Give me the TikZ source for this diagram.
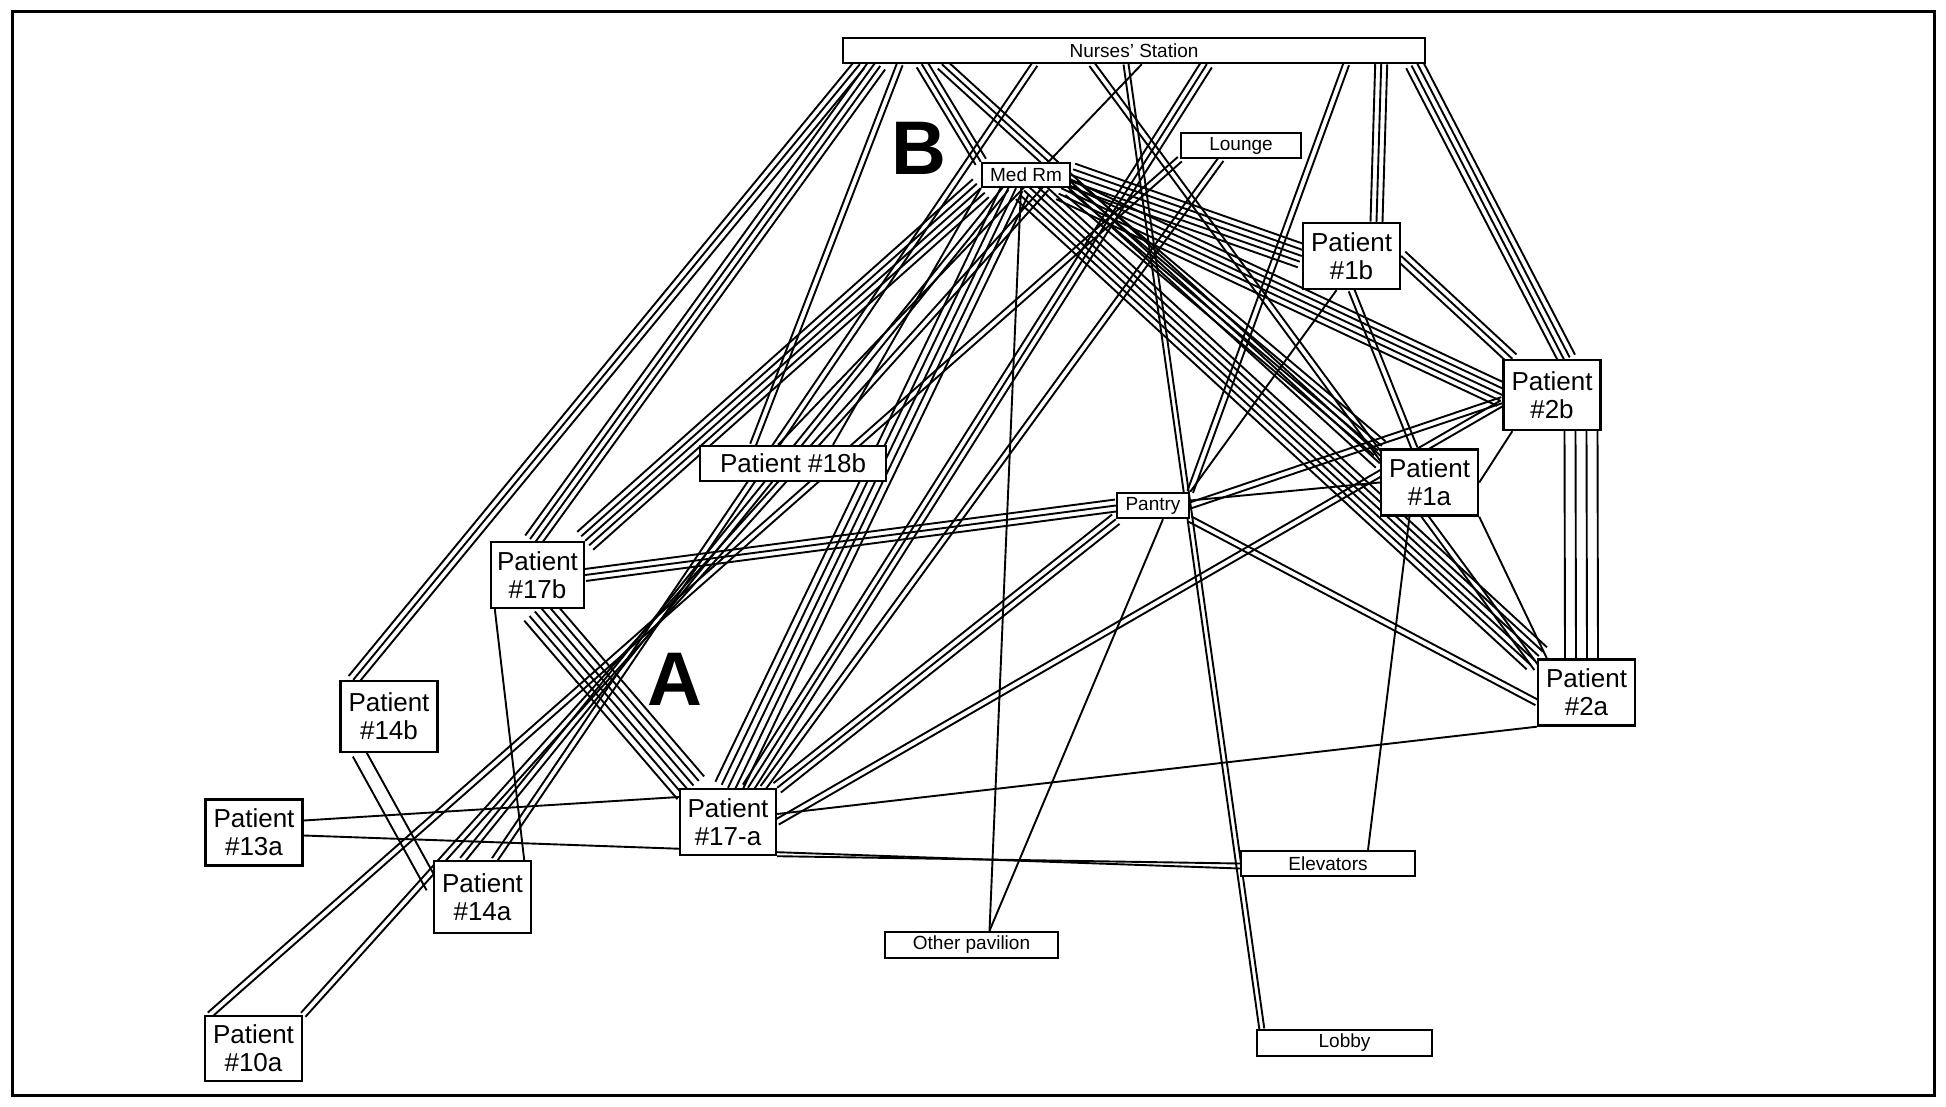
\documentclass[tikz,border=0pt]{standalone}
\usepackage{fontspec}
\setmainfont{Liberation Sans}
\usetikzlibrary{calc,backgrounds}
\tikzset{
  conn/.style={line width=1.9pt, black},
  box/.style={draw=black, line width=2.4pt, fill=white, inner sep=1pt, align=center},
  pbox/.style={box, minimum width=97pt, minimum height=66pt, font=\fontsize{26}{28}\selectfont},
  lbox/.style={box, minimum height=25pt, font=\fontsize{19}{21}\selectfont},
  bigletter/.style={font=\fontsize{76}{76}\selectfont\bfseries, inner sep=0pt}
}
\newcommand\bund[4]{%
  \foreach \bk in {1,...,#3}{%
    \pgfmathsetmacro\bundoff{(\bk-(#3+1)/2)*#4}%
    \draw[conn] ($#1!\bundoff pt!90:#2$) -- ($#2!\bundoff pt!-90:#1$);
  }}
\begin{document}
\begin{tikzpicture}[x=1pt,y=-1pt]
\useasboundingbox (0,0) rectangle (1946,1107);
\draw[line width=3pt] (12,12) rectangle (1934,1095);

% nodes
\node[lbox, minimum width=582pt] (NS) at (1134,50.5) {Nurses' Station};
\node[lbox, minimum width=120pt] (LG) at (1241,145.5) {Lounge};
\node[lbox, minimum width=88pt, minimum height=24pt] (MR) at (1026,175) {Med Rm};
\node[pbox] (P1b) at (1351.5,256) {Patient\\\#1b};
\node[pbox, minimum height=70pt] (P2b) at (1552,395) {Patient\\\#2b};
\node[pbox] (P1a) at (1429.5,482.5) {Patient\\\#1a};
\node[pbox] (P2a) at (1586.5,692.5) {Patient\\\#2a};
\node[box, minimum width=186pt, minimum height=35pt, font=\fontsize{26}{28}\selectfont] (P18b) at (793,463.5) {Patient \#18b};
\node[lbox, minimum width=72pt] (PA) at (1153,505.5) {Pantry};
\node[pbox, minimum width=93pt] (P17b) at (537.5,575) {Patient\\\#17b};
\node[pbox, minimum height=71pt] (P14b) at (389,716.5) {Patient\\\#14b};
\node[pbox] (P13a) at (254,832.5) {Patient\\\#13a};
\node[pbox, minimum height=72pt] (P14a) at (482.5,897) {Patient\\\#14a};
\node[pbox, minimum width=96pt] (P17a) at (728,822) {Patient\\\#17-a};
\node[lbox, minimum width=174pt] (EL) at (1328,863.5) {Elevators};
\node[lbox, minimum width=173pt, minimum height=26pt] (OP) at (971.5,945) {Other pavilion};
\node[lbox, minimum width=175pt, minimum height=26pt] (LB) at (1344.5,1043) {Lobby};
\node[pbox, minimum height=65pt] (P10a) at (253.5,1048.5) {Patient\\\#10a};
\node[bigletter] (LA) at (674.5,679.5) {A};
\node[bigletter] (LBl) at (918.5,148) {B};

\begin{pgfonlayer}{background}
% Nurses' Station
\bund{([xshift=18pt]NS.south west)}{([xshift=14pt]P14b.north west)}{3}{6}
\bund{([xshift=36pt]NS.south west)}{([xshift=-5pt]P17b.north)}{4}{6}
\bund{([xshift=58pt]NS.south west)}{([xshift=-40pt]P18b.north)}{2}{6}
\bund{([xshift=300pt]NS.south west)}{([xshift=-15pt]P18b.north)}{1}{6}
\bund{([xshift=80pt]NS.south west)}{(MR.north west)}{3}{6}
\bund{([xshift=100pt]NS.south west)}{([yshift=-15pt]P1a.north west)}{3}{6}
\bund{([xshift=250pt]NS.south west)}{([yshift=-10pt]P2a.north west)}{2}{6}
\bund{([xshift=365pt]NS.south west)}{([xshift=20pt]P17a.north)}{3}{6}
\bund{([xshift=-45pt]NS.south east)}{([xshift=25pt]P1b.north)}{3}{6}
\bund{([xshift=-12pt]NS.south east)}{([xshift=15pt]P2b.north)}{4}{6}
\bund{([xshift=-80pt]NS.south east)}{(PA.north east)}{2}{6}
\bund{([xshift=-8pt]NS.south)}{([xshift=6pt]LB.north west)}{2}{5}
\bund{([xshift=193pt]NS.south west)}{([xshift=12pt]P14a.north)}{2}{6}
% Med Rm
\bund{(MR.east)}{(P1b.west)}{5}{6}
\bund{([xshift=-10pt]MR.south east)}{(P2b.west)}{5}{6}
\bund{(MR.south east)}{(P1a.north west)}{4}{6}
\bund{(MR.south)}{(P2a.north west)}{6}{6}
\bund{(MR.south west)}{(P17b.north east)}{5}{6}
\bund{([xshift=-10pt]MR.south)}{(P17a.north)}{5}{7}
\bund{([xshift=-5pt]MR.south)}{([xshift=18pt]OP.north)}{1}{5}
\bund{(MR.south west)}{([xshift=40pt]P18b.north)}{1}{5}
\bund{([xshift=20pt]MR.south)}{(P10a.north east)}{2}{6}
% Lounge
\bund{(LG.south west)}{([xshift=6pt]P10a.north west)}{2}{6}
\bund{([xshift=-20pt]LG.south)}{([xshift=35pt]P17a.north)}{2}{6}
% Patient 17b / 17a
\bund{(P17b.south)}{([xshift=12pt]P17a.north west)}{6}{7}
\bund{(P17b.east)}{(PA.west)}{3}{6}
\bund{([xshift=5pt]P17b.south west)}{([xshift=-8pt]P14a.north east)}{1}{5}
\bund{(P17a.north east)}{(PA.south west)}{3}{6}
\bund{(P17a.east)}{([yshift=-8pt]P2b.west)}{2}{6}
\bund{([yshift=8pt]P17a.east)}{(P2a.south west)}{1}{5}
\bund{(P17a.south east)}{(EL.west)}{1}{5}
\bund{([yshift=12pt]P13a.east)}{([yshift=25pt]P17a.west)}{1}{5}
\bund{([yshift=-3pt]P13a.east)}{([yshift=-5pt]EL.west)}{1}{5}
% Patient 14b / 14a
\bund{([xshift=-30pt]P14b.south)}{([yshift=10pt]P14a.west)}{2}{14}
\bund{([xshift=-20pt]P14a.north)}{([xshift=-20pt]MR.south)}{2}{6}
% Pantry
\bund{(PA.north east)}{([xshift=-15pt]P1b.south)}{1}{5}
\bund{(PA.east)}{([yshift=-5pt]P2b.west)}{2}{6}
\bund{(PA.south east)}{([yshift=-10pt]P2a.west)}{2}{6}
\bund{([xshift=10pt]PA.south)}{([xshift=18pt]OP.north)}{1}{5}
\bund{([yshift=5pt]PA.east)}{(P1a.west)}{1}{5}
% right-hand patients
\bund{(P1b.east)}{([xshift=10pt]P2b.north west)}{3}{6}
\bund{(P1b.south)}{([xshift=-15pt]P1a.north)}{2}{6}
\bund{(P1a.east)}{([xshift=10pt]P2b.south west)}{1}{5}
\bund{(P1a.south east)}{([xshift=10pt]P2a.north west)}{1}{5}
\bund{([xshift=-20pt]P1a.south)}{([xshift=40pt]EL.north)}{1}{5}
\bund{([xshift=29pt]P2b.south)}{([xshift=-5pt]P2a.north)}{4}{11}
\end{pgfonlayer}
\end{tikzpicture}
\end{document}
